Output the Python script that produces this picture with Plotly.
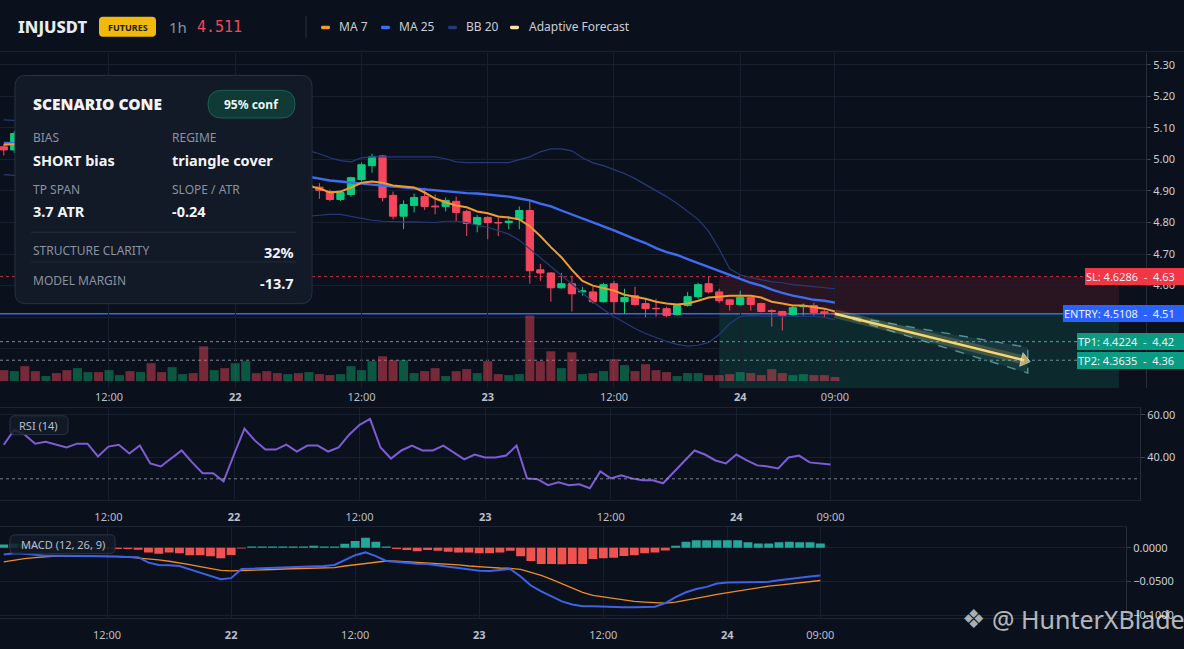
import pandas as pd
import plotly.graph_objects as go

W, H = 1184, 649
FONT = "Noto Sans"
BG = "#0b111c"
GRID = "#182030"

# ---------------- data ----------------
symbol = "INJUSDT"
market = "FUTURES"
interval = "1h"
last_price = "4.511"

times = pd.date_range("2025-03-21 02:00", periods=80, freq="h")

opens = [5.040, 5.030, 5.082, 5.050, 5.030, 5.042, 5.025, 5.010, 5.025, 5.032,
         4.990, 5.010, 5.015, 4.985, 5.000, 4.955, 4.940, 4.960, 4.975, 4.945,
         4.900, 4.905, 4.880, 4.930, 4.975, 4.955, 4.945, 4.940, 4.950, 4.910,
         4.912, 4.898, 4.873, 4.889, 4.936, 4.980, 5.011, 4.886, 4.820, 4.854,
         4.882, 4.852, 4.851, 4.867, 4.835, 4.794, 4.816, 4.800, 4.800, 4.810,
         4.838, 4.650, 4.640, 4.593, 4.606, 4.580, 4.580, 4.549, 4.606, 4.549,
         4.568, 4.543, 4.528, 4.527, 4.508, 4.537, 4.565, 4.606, 4.580, 4.555,
         4.540, 4.562, 4.543, 4.521, 4.518, 4.508, 4.533, 4.537, 4.517, 4.512]
highs = [5.048, 5.090, 5.090, 5.062, 5.050, 5.050, 5.035, 5.032, 5.040, 5.036,
         5.018, 5.024, 5.020, 5.008, 5.004, 4.965, 4.968, 4.985, 4.980, 4.952,
         4.915, 4.910, 4.935, 4.985, 4.980, 4.962, 4.955, 4.958, 4.955, 4.930,
         4.925, 4.904, 4.900, 4.945, 4.990, 5.018, 5.014, 4.898, 4.870, 4.892,
         4.910, 4.889, 4.879, 4.882, 4.840, 4.823, 4.820, 4.816, 4.820, 4.851,
         4.870, 4.669, 4.643, 4.640, 4.631, 4.596, 4.596, 4.609, 4.615, 4.590,
         4.596, 4.558, 4.558, 4.533, 4.540, 4.580, 4.609, 4.628, 4.590, 4.558,
         4.584, 4.565, 4.546, 4.525, 4.520, 4.537, 4.543, 4.546, 4.527, 4.516]
lows = [5.012, 5.020, 5.040, 5.020, 5.018, 5.010, 4.995, 5.000, 5.012, 4.980,
        4.982, 5.000, 4.975, 4.978, 4.945, 4.930, 4.934, 4.952, 4.938, 4.885,
        4.890, 4.868, 4.875, 4.925, 4.948, 4.938, 4.932, 4.935, 4.905, 4.900,
        4.875, 4.867, 4.868, 4.882, 4.930, 4.958, 4.867, 4.810, 4.779, 4.832,
        4.840, 4.826, 4.835, 4.804, 4.757, 4.769, 4.747, 4.757, 4.779, 4.779,
        4.606, 4.615, 4.549, 4.590, 4.518, 4.568, 4.543, 4.546, 4.510, 4.510,
        4.537, 4.500, 4.502, 4.500, 4.505, 4.533, 4.558, 4.575, 4.545, 4.521,
        4.537, 4.521, 4.515, 4.470, 4.458, 4.505, 4.505, 4.505, 4.499, 4.506]
closes = [5.030, 5.082, 5.050, 5.030, 5.042, 5.025, 5.010, 5.025, 5.032, 4.990,
          5.010, 5.015, 4.985, 5.000, 4.955, 4.940, 4.960, 4.975, 4.945, 4.900,
          4.905, 4.880, 4.930, 4.975, 4.955, 4.945, 4.940, 4.950, 4.910, 4.918,
          4.902, 4.873, 4.895, 4.942, 4.983, 5.008, 4.879, 4.820, 4.857, 4.879,
          4.851, 4.850, 4.870, 4.832, 4.797, 4.816, 4.800, 4.799, 4.804, 4.838,
          4.647, 4.640, 4.593, 4.606, 4.574, 4.583, 4.549, 4.603, 4.549, 4.562,
          4.540, 4.527, 4.527, 4.505, 4.537, 4.565, 4.603, 4.580, 4.552, 4.540,
          4.562, 4.540, 4.518, 4.518, 4.505, 4.530, 4.537, 4.515, 4.512, 4.511]
volumes = [55, 50, 75, 50, 25, 40, 55, 65, 45, 45,
           55, 30, 50, 45, 90, 45, 70, 35, 40, 175,
           55, 65, 90, 100, 40, 50, 40, 35, 40, 45,
           35, 30, 35, 75, 55, 100, 125, 105, 105, 40,
           50, 65, 25, 50, 60, 40, 100, 35, 30, 35,
           330, 100, 150, 65, 145, 35, 40, 50, 110, 80,
           50, 85, 55, 45, 25, 40, 40, 30, 30, 35,
           45, 40, 30, 60, 40, 30, 35, 30, 30, 20]

ma7 = [5.046, 5.048, 5.050, 5.049, 5.047, 5.045, 5.040, 5.033, 5.028, 5.022,
       5.019, 5.016, 5.012, 5.006, 4.998, 4.986, 4.979, 4.972, 4.962, 4.950,
       4.940, 4.930, 4.925, 4.928, 4.930, 4.935, 4.940, 4.942, 4.935, 4.916,
       4.908, 4.895, 4.898, 4.911, 4.926, 4.930, 4.926, 4.917, 4.914, 4.911,
       4.895, 4.876, 4.864, 4.854, 4.848, 4.835, 4.829, 4.819, 4.816, 4.810,
       4.788, 4.757, 4.722, 4.690, 4.650, 4.615, 4.600, 4.593, 4.584, 4.571,
       4.565, 4.558, 4.549, 4.543, 4.540, 4.543, 4.552, 4.562, 4.565, 4.568,
       4.568, 4.568, 4.562, 4.549, 4.543, 4.537, 4.537, 4.533, 4.527, 4.518]
ma25 = [5.052, 5.052, 5.051, 5.050, 5.048, 5.046, 5.044, 5.041, 5.038, 5.034,
        5.030, 5.026, 5.022, 5.018, 5.013, 5.007, 5.001, 4.995, 4.989, 4.982,
        4.975, 4.968, 4.962, 4.958, 4.955, 4.952, 4.950, 4.948, 4.947, 4.945,
        4.939, 4.933, 4.930, 4.926, 4.923, 4.920, 4.917, 4.914, 4.911, 4.908,
        4.904, 4.901, 4.898, 4.895, 4.893, 4.892, 4.889, 4.886, 4.882, 4.876,
        4.870, 4.860, 4.851, 4.838, 4.826, 4.813, 4.800, 4.788, 4.775, 4.760,
        4.747, 4.735, 4.719, 4.706, 4.697, 4.684, 4.672, 4.659, 4.647, 4.634,
        4.621, 4.609, 4.600, 4.587, 4.577, 4.568, 4.562, 4.555, 4.552, 4.546]
bb_upper = [5.125, 5.124, 5.122, 5.120, 5.118, 5.115, 5.112, 5.108, 5.104, 5.100,
            5.096, 5.092, 5.088, 5.084, 5.080, 5.076, 5.072, 5.068, 5.064, 5.060,
            5.056, 5.052, 5.048, 5.044, 5.040, 5.037, 5.034, 5.031, 5.029, 5.027,
            5.018, 5.005, 4.996, 4.992, 5.005, 5.008, 5.008, 5.008, 5.008, 5.008,
            5.008, 5.008, 5.002, 4.992, 4.990, 4.990, 4.990, 4.990, 4.990, 4.999,
            5.008, 5.024, 5.033, 5.033, 5.027, 5.005, 4.989, 4.980, 4.967, 4.955,
            4.939, 4.920, 4.900, 4.882, 4.860, 4.835, 4.810, 4.772, 4.716, 4.653,
            4.634, 4.625, 4.618, 4.612, 4.609, 4.603, 4.600, 4.596, 4.593, 4.590]
bb_lower = [4.952, 4.950, 4.948, 4.945, 4.942, 4.938, 4.934, 4.930, 4.925, 4.920,
            4.915, 4.910, 4.905, 4.900, 4.893, 4.886, 4.879, 4.872, 4.865, 4.857,
            4.850, 4.843, 4.838, 4.834, 4.830, 4.827, 4.825, 4.823, 4.821, 4.820,
            4.823, 4.826, 4.826, 4.820, 4.813, 4.807, 4.804, 4.802, 4.802, 4.802,
            4.802, 4.800, 4.804, 4.804, 4.800, 4.791, 4.785, 4.775, 4.763, 4.744,
            4.716, 4.691, 4.662, 4.634, 4.606, 4.577, 4.549, 4.524, 4.502, 4.483,
            4.464, 4.448, 4.436, 4.423, 4.414, 4.408, 4.411, 4.420, 4.445, 4.480,
            4.502, 4.505, 4.503, 4.503, 4.503, 4.503, 4.503, 4.502, 4.499, 4.492]

rsi = [46.0, 53.0, 50.7, 46.5, 47.4, 46.0, 44.7, 46.5, 46.5, 40.5,
       45.1, 46.0, 41.9, 45.6, 37.2, 35.8, 39.5, 43.3, 37.7, 32.6,
       32.6, 28.8, 41.4, 53.5, 47.9, 43.7, 43.7, 46.0, 42.8, 45.6,
       45.6, 42.8, 44.7, 50.7, 55.3, 58.1, 44.7, 39.5, 43.3, 45.6,
       43.3, 43.3, 45.6, 42.3, 39.1, 41.4, 40.0, 40.0, 40.9, 45.6,
       30.2, 29.8, 27.0, 28.4, 27.0, 27.4, 25.6, 33.5, 30.2, 31.6,
       30.2, 29.3, 29.3, 27.9, 33.0, 38.1, 43.3, 41.4, 38.6, 37.2,
       41.4, 38.6, 36.3, 35.8, 34.9, 40.0, 40.9, 37.7, 37.2, 36.7]

macd = [-0.0100, -0.0080, -0.0090, -0.0110, -0.0120, -0.0120, -0.0120, -0.0120, -0.0125, -0.0130,
        -0.0130, -0.0130, -0.0135, -0.0140, -0.0220, -0.0255, -0.0260, -0.0270, -0.0320, -0.0370,
        -0.0420, -0.0466, -0.0450, -0.0314, -0.0310, -0.0305, -0.0300, -0.0295, -0.0290, -0.0285,
        -0.0280, -0.0270, -0.0255, -0.0180, -0.0110, -0.0069, -0.0123, -0.0196, -0.0210, -0.0230,
        -0.0235, -0.0240, -0.0255, -0.0280, -0.0300, -0.0320, -0.0340, -0.0343, -0.0330, -0.0314,
        -0.0426, -0.0560, -0.0647, -0.0720, -0.0794, -0.0840, -0.0868, -0.0868, -0.0875, -0.0882,
        -0.0882, -0.0882, -0.0882, -0.0875, -0.0820, -0.0730, -0.0660, -0.0610, -0.0580, -0.0530,
        -0.0515, -0.0510, -0.0510, -0.0510, -0.0505, -0.0480, -0.0460, -0.0440, -0.0425, -0.0412]
signal = [-0.0210, -0.0180, -0.0160, -0.0145, -0.0130, -0.0122, -0.0120, -0.0120, -0.0120, -0.0122,
          -0.0125, -0.0130, -0.0140, -0.0150, -0.0165, -0.0180, -0.0200, -0.0220, -0.0250, -0.0280,
          -0.0310, -0.0335, -0.0343, -0.0340, -0.0335, -0.0330, -0.0322, -0.0315, -0.0310, -0.0305,
          -0.0300, -0.0297, -0.0294, -0.0270, -0.0250, -0.0230, -0.0205, -0.0196, -0.0200, -0.0208,
          -0.0216, -0.0225, -0.0230, -0.0240, -0.0255, -0.0270, -0.0285, -0.0290, -0.0300, -0.0304,
          -0.0320, -0.0360, -0.0410, -0.0470, -0.0530, -0.0600, -0.0660, -0.0705, -0.0730, -0.0755,
          -0.0780, -0.0795, -0.0805, -0.0815, -0.0820, -0.0805, -0.0780, -0.0750, -0.0720, -0.0690,
          -0.0665, -0.0640, -0.0610, -0.0585, -0.0570, -0.0555, -0.0540, -0.0525, -0.0500, -0.0485]
hist = [0.0050, 0.0060, 0.0060, 0.0040, 0.0020, 0.0010, 0.0000, -0.0010, -0.0010, -0.0010,
        -0.0010, -0.0020, -0.0020, -0.0030, -0.0070, -0.0090, -0.0070, -0.0080, -0.0110, -0.0110,
        -0.0127, -0.0157, -0.0108, -0.0010, 0.0020, 0.0020, 0.0020, 0.0020, 0.0020, 0.0020,
        0.0030, 0.0020, 0.0020, 0.0060, 0.0100, 0.0150, 0.0090, 0.0020, -0.0020, -0.0034,
        -0.0050, -0.0034, -0.0044, -0.0060, -0.0070, -0.0070, -0.0080, -0.0080, -0.0070, -0.0044,
        -0.0127, -0.0196, -0.0240, -0.0240, -0.0245, -0.0240, -0.0240, -0.0167, -0.0157, -0.0147,
        -0.0123, -0.0110, -0.0080, -0.0070, -0.0040, 0.0030, 0.0090, 0.0110, 0.0110, 0.0110,
        0.0110, 0.0110, 0.0080, 0.0064, 0.0064, 0.0080, 0.0090, 0.0080, 0.0080, 0.0064]

# trade setup
sl_level = 4.6286
entry_level = 4.5108
tp1_level = 4.4224
tp2_level = 4.3635
zone_start = "2025-03-23 22:00"
zone_end = "2025-03-25 12:00"

forecast_times = ["2025-03-24 09:00", "2025-03-25 03:00"]
forecast_prices = [4.5108, 4.3635]
cone_times = ["2025-03-24 09:00", "2025-03-25 03:20"]
cone_upper = [4.5108, 4.404]
cone_lower = [4.5108, 4.323]

price_ticks = [4.60, 4.70, 4.80, 4.90, 5.00, 5.10, 5.20, 5.30]
price_hidden_grid = [4.40, 4.50]   # gridlines whose labels sit under the level tags
rsi_ticks = [40, 60]
macd_ticks = [0.0, -0.05, -0.10]
time_tickvals = ["2025-03-21 12:00", "2025-03-22 00:00", "2025-03-22 12:00",
                 "2025-03-23 00:00", "2025-03-23 12:00", "2025-03-24 00:00", "2025-03-24 09:00"]
time_ticktext = ["12:00", "<b>22</b>", "12:00", "<b>23</b>", "12:00", "<b>24</b>", "09:00"]

legend_items = ["MA 7", "MA 25", "BB 20", "Adaptive Forecast"]
panel_title = "SCENARIO CONE"
panel_badge = "95% conf"
panel_grid = [("BIAS", "SHORT bias"), ("REGIME", "triangle cover"),
              ("TP SPAN", "3.7 ATR"), ("SLOPE / ATR", "-0.24")]
panel_rows = [("STRUCTURE CLARITY", "32%"), ("MODEL MARGIN", "-13.7")]
watermark = "@ HunterXBlade"

# ---------------- styling ----------------
GREEN = "#0ecb81"
RED = "#f6465d"
C_MA7 = "#f39c2b"
C_MA25 = "#3d6ef2"
C_BB = "#26397a"
C_FC = "#f7d774"

def P(x, y):
    return f"{x / W:.5f},{1 - y / H:.5f}"

def rrect(x0, y0, x1, y1, r):
    return (f"M{P(x0 + r, y0)} L{P(x1 - r, y0)} Q{P(x1, y0)} {P(x1, y0 + r)} "
            f"L{P(x1, y1 - r)} Q{P(x1, y1)} {P(x1 - r, y1)} L{P(x0 + r, y1)} "
            f"Q{P(x0, y1)} {P(x0, y1 - r)} L{P(x0, y0 + r)} Q{P(x0, y0)} {P(x0 + r, y0)} Z")

def txt(x, y, s, size=12, color="#e6e9ef", bold=False, anchor="left", family=FONT, weight=None):
    return dict(xref="paper", yref="paper", x=x / W, y=1 - y / H, text=s, showarrow=False,
                xanchor=anchor, yanchor="middle",
                font=dict(size=size, color=color, family=family,
                          weight=weight if weight else ("bold" if bold else "normal")))

t_base = pd.Timestamp("2025-03-21 00:00")
x_range = [str(t_base + pd.Timedelta(hours=1.64)), str(t_base + pd.Timedelta(hours=110.57))]

vol_colors = ["rgba(14,203,129,0.38)" if c >= o else "rgba(246,70,93,0.45)"
              for o, c in zip(opens, closes)]
hist_colors = ["#26a69a" if v >= 0 else "#ef5350" for v in hist]
bar_w = 0.86 * 3600 * 1000

fig = go.Figure()

fig.add_trace(go.Bar(x=times, y=volumes, marker=dict(color=vol_colors, line=dict(width=0)),
                     width=bar_w, xaxis="x", yaxis="y", hoverinfo="skip"))
fig.add_trace(go.Scatter(x=times, y=bb_upper, mode="lines", line=dict(color=C_BB, width=1.2),
                         xaxis="x", yaxis="y2"))
fig.add_trace(go.Scatter(x=times, y=bb_lower, mode="lines", line=dict(color=C_BB, width=1.2),
                         xaxis="x", yaxis="y2"))
fig.add_trace(go.Scatter(x=times, y=ma25, mode="lines", line=dict(color=C_MA25, width=2.4),
                         xaxis="x", yaxis="y2"))
fig.add_trace(go.Scatter(x=times, y=ma7, mode="lines", line=dict(color=C_MA7, width=2),
                         xaxis="x", yaxis="y2"))
fig.add_trace(go.Candlestick(
    x=times, open=opens, high=highs, low=lows, close=closes,
    increasing=dict(line=dict(color=GREEN, width=1), fillcolor=GREEN),
    decreasing=dict(line=dict(color=RED, width=1), fillcolor=RED),
    whiskerwidth=0, xaxis="x", yaxis="y2"))
fig.add_trace(go.Scatter(
    x=cone_times + [cone_times[1], cone_times[0]],
    y=[cone_upper[0], cone_upper[1], cone_lower[1], cone_lower[0]],
    mode="lines", fill="toself", fillcolor="rgba(120,200,205,0.10)",
    line=dict(color="rgba(110,175,185,0.75)", width=1.4, dash="dash"),
    xaxis="x", yaxis="y2"))
fig.add_trace(go.Scatter(x=forecast_times, y=forecast_prices, mode="lines",
                         line=dict(color="rgba(247,215,116,0.2)", width=9),
                         xaxis="x", yaxis="y2"))
fig.add_trace(go.Scatter(x=forecast_times, y=forecast_prices, mode="lines+markers",
                         line=dict(color=C_FC, width=2.4),
                         marker=dict(symbol=["circle", "triangle-up"], size=[8, 12], color=C_FC,
                                     angleref="previous"),
                         xaxis="x", yaxis="y2"))
fig.add_trace(go.Scatter(x=times, y=rsi, mode="lines", line=dict(color="#7e5cd6", width=2),
                         xaxis="x2", yaxis="y3"))
fig.add_trace(go.Bar(x=times, y=hist, marker=dict(color=hist_colors, line=dict(width=0)),
                     width=bar_w, xaxis="x3", yaxis="y4"))
fig.add_trace(go.Scatter(x=times, y=signal, mode="lines", line=dict(color="#f08a24", width=1.3),
                         xaxis="x3", yaxis="y4"))
fig.add_trace(go.Scatter(x=times, y=macd, mode="lines", line=dict(color="#3b63e8", width=2),
                         xaxis="x3", yaxis="y4"))

main_dom = [1 - 390 / H, 1 - 52 / H]
rsi_dom = [1 - 503 / H, 1 - 410 / H]
macd_dom = [1 - 622 / H, 1 - 530 / H]

tickfont = dict(size=11, color="#b9bec8", family=FONT)

def xax(dom_right, anchor, show_line, standoff):
    return dict(domain=[0, dom_right / W], range=x_range, anchor=anchor, type="date",
                tickvals=time_tickvals, ticktext=time_ticktext, tickfont=tickfont,
                showgrid=True, gridcolor=GRID, gridwidth=1, zeroline=False,
                showline=show_line, mirror=show_line, linecolor="#1d2433",
                ticklabelstandoff=standoff,
                rangeslider=dict(visible=False), fixedrange=True)

def yax(dom, anchor, rng, ticks, fmt, overlay=None):
    d = dict(anchor=anchor, side="right", range=rng, tickvals=ticks, tickformat=fmt,
             tickfont=dict(size=11, color="#c9cdd5", family=FONT),
             ticks="outside", ticklen=4, tickcolor="#3a4252",
             showgrid=True, gridcolor=GRID, zeroline=False,
             showline=True, linecolor="#262d3b", fixedrange=True)
    if overlay:
        d["overlaying"] = overlay
    else:
        d["domain"] = dom
    return d

price_axis = yax(None, "x", [4.2755, 5.3384], price_ticks, ".2f", overlay="y")
price_axis["minor"] = dict(tickvals=price_hidden_grid, showgrid=True, gridcolor=GRID, ticks="")

fig.update_layout(
    width=W, height=H, margin=dict(l=0, r=0, t=0, b=0),
    paper_bgcolor=BG, plot_bgcolor=BG, showlegend=False, hovermode=False,
    boxgap=0.12, boxgroupgap=0.22, bargap=0.1,
    xaxis=xax(1146, "y", False, 1),
    xaxis2=xax(1140, "y3", True, 7),
    xaxis3=xax(1126, "y4", True, 7),
    yaxis=dict(domain=main_dom, range=[-35, 1655], visible=False, fixedrange=True),
    yaxis2=price_axis,
    yaxis3=yax(rsi_dom, "x2", [20, 63.3], rsi_ticks, ".2f"),
    yaxis4=yax(macd_dom, "x3", [-0.1044, 0.0309], macd_ticks, ".4f"),
)

shapes = []
shapes.append(dict(type="line", xref="paper", yref="paper", x0=0, x1=1, y0=1 - 51 / H, y1=1 - 51 / H,
                   line=dict(color="#1d2432", width=1)))
shapes.append(dict(type="line", xref="paper", yref="paper", x0=306 / W, x1=306 / W,
                   y0=1 - 15 / H, y1=1 - 37 / H, line=dict(color="#2a3140", width=1)))
shapes.append(dict(type="rect", xref="x", yref="y2", x0=zone_start, x1=zone_end,
                   y0=entry_level, y1=sl_level, fillcolor="rgba(242,54,69,0.13)",
                   line=dict(width=0), layer="below"))
shapes.append(dict(type="rect", xref="x", yref="y2", x0=zone_start, x1=zone_end,
                   y0=4.2755, y1=entry_level, fillcolor="rgba(20,190,150,0.15)",
                   line=dict(width=0), layer="below"))
shapes.append(dict(type="line", xref="paper", yref="y2", x0=0, x1=1084 / W, y0=sl_level, y1=sl_level,
                   line=dict(color="rgba(242,54,69,0.8)", width=1, dash="dot"), layer="below"))
shapes.append(dict(type="line", xref="paper", yref="y2", x0=0, x1=1063 / W, y0=entry_level, y1=entry_level,
                   line=dict(color="#2f66f5", width=1.3), layer="below"))
for lv in (tp1_level, tp2_level):
    shapes.append(dict(type="line", xref="paper", yref="y2", x0=0, x1=1077 / W, y0=lv, y1=lv,
                       line=dict(color="rgba(175,190,200,0.7)", width=1, dash="dot"), layer="below"))
shapes.append(dict(type="line", xref="x2 domain", yref="y3", x0=0, x1=1, y0=30, y1=30,
                   line=dict(color="rgba(170,178,190,0.7)", width=1, dash="dot")))
shapes.append(dict(type="path", xref="paper", yref="paper", path=rrect(99, 16, 156, 36, 4),
                   fillcolor="#f0b90b", line=dict(width=0)))
for x0, col in zip([321, 381, 448, 510], [C_MA7, C_MA25, C_BB, "#f6e3a6"]):
    shapes.append(dict(type="path", xref="paper", yref="paper", path=rrect(x0, 25, x0 + 9, 28.5, 1.5),
                       fillcolor=col, line=dict(width=0)))
shapes.append(dict(type="path", xref="paper", yref="paper", path=rrect(15, 75, 312, 305, 11),
                   fillcolor="#121927", line=dict(color="#283142", width=1), layer="above"))
shapes.append(dict(type="path", xref="paper", yref="paper", path=rrect(208, 90, 295, 118, 14),
                   fillcolor="#0f3a35", line=dict(color="#1f5e53", width=1), layer="above"))
for yy in (233, 263):
    shapes.append(dict(type="line", xref="paper", yref="paper", x0=31 / W, x1=296 / W,
                       y0=1 - yy / H, y1=1 - yy / H, line=dict(color="#252d3c", width=1), layer="above"))
shapes.append(dict(type="path", xref="paper", yref="paper", path=rrect(10, 418, 68, 437, 5),
                   fillcolor="rgba(20,27,40,0.85)", line=dict(color="#2b3344", width=1), layer="above"))
shapes.append(dict(type="path", xref="paper", yref="paper", path=rrect(10, 538, 115, 557, 5),
                   fillcolor="rgba(20,27,40,0.85)", line=dict(color="#2b3344", width=1), layer="above"))

ann = []
ann.append(txt(16, 26, symbol, size=16.5, color="#e8ebf0", weight=800))
ann.append(txt(127.5, 26.5, market, size=9, color="#1c1c1c", bold=True, anchor="center"))
ann.append(txt(167, 26, interval, size=15, color="#8a919e"))
ann.append(txt(195, 26, last_price, size=15, color=RED, family="DejaVu Sans Mono"))
for x0, lab in zip([337, 397, 464, 527], legend_items):
    ann.append(txt(x0, 26, lab, size=12, color="#c9cdd6"))
ann.append(txt(31, 104, panel_title, size=15.5, color="#f2f4f7", weight=900))
ann.append(txt(251.5, 104, panel_badge, size=12, color="#e9f6f1", bold=True, anchor="center"))
for (lab, val), (x0, y0) in zip(panel_grid, [(31, 138), (170, 138), (31, 190), (170, 190)]):
    ann.append(txt(x0, y0, lab, size=12, color="#8a92a2"))
    ann.append(txt(x0, y0 + 22, val, size=14.5, color="#f2f4f7", bold=True))
for (lab, val), y0 in zip(panel_rows, [251, 282]):
    ann.append(txt(31, y0, lab, size=12, color="#8a92a2"))
    ann.append(txt(296, y0 + 2, val, size=14.5, color="#f2f4f7", bold=True, anchor="right"))
ann.append(txt(39, 427.5, "RSI (14)", size=11, color="#b8bfcc", anchor="center"))
ann.append(txt(62.5, 547.5, "MACD (12, 26, 9)", size=11, color="#b8bfcc", anchor="center"))
for name, lv, col in [("SL", sl_level, "#f23645"), ("ENTRY", entry_level, "#2962ff"),
                      ("TP1", tp1_level, "#0b9b82"), ("TP2", tp2_level, "#0b9b82")]:
    ann.append(dict(xref="paper", yref="y2", x=1.0, y=lv, xanchor="right", yanchor="middle",
                    text=f"{name}: {lv:.4f}  -  {lv:.2f}   ", showarrow=False, bgcolor=col,
                    borderpad=1, borderwidth=0,
                    font=dict(size=11, color="#eef1f5", family=FONT)))
ann.append(txt(973, 623, "❖", size=26, color="rgba(225,225,225,0.75)", anchor="center", family="DejaVu Sans"))
ann.append(txt(990, 623, watermark, size=25, color="rgba(228,228,228,0.8)"))

fig.update_layout(shapes=shapes, annotations=ann)
fig.write_html("out.html", config={"displayModeBar": False, "staticPlot": True})

# remove the default page margin so the figure fills the window exactly
with open("out.html", "r", encoding="utf-8") as f:
    html = f.read()
html = html.replace("<head>", "<head><style>html,body{margin:0;padding:0;background:#0b111c;overflow:hidden}</style>", 1)
with open("out.html", "w", encoding="utf-8") as f:
    f.write(html)
